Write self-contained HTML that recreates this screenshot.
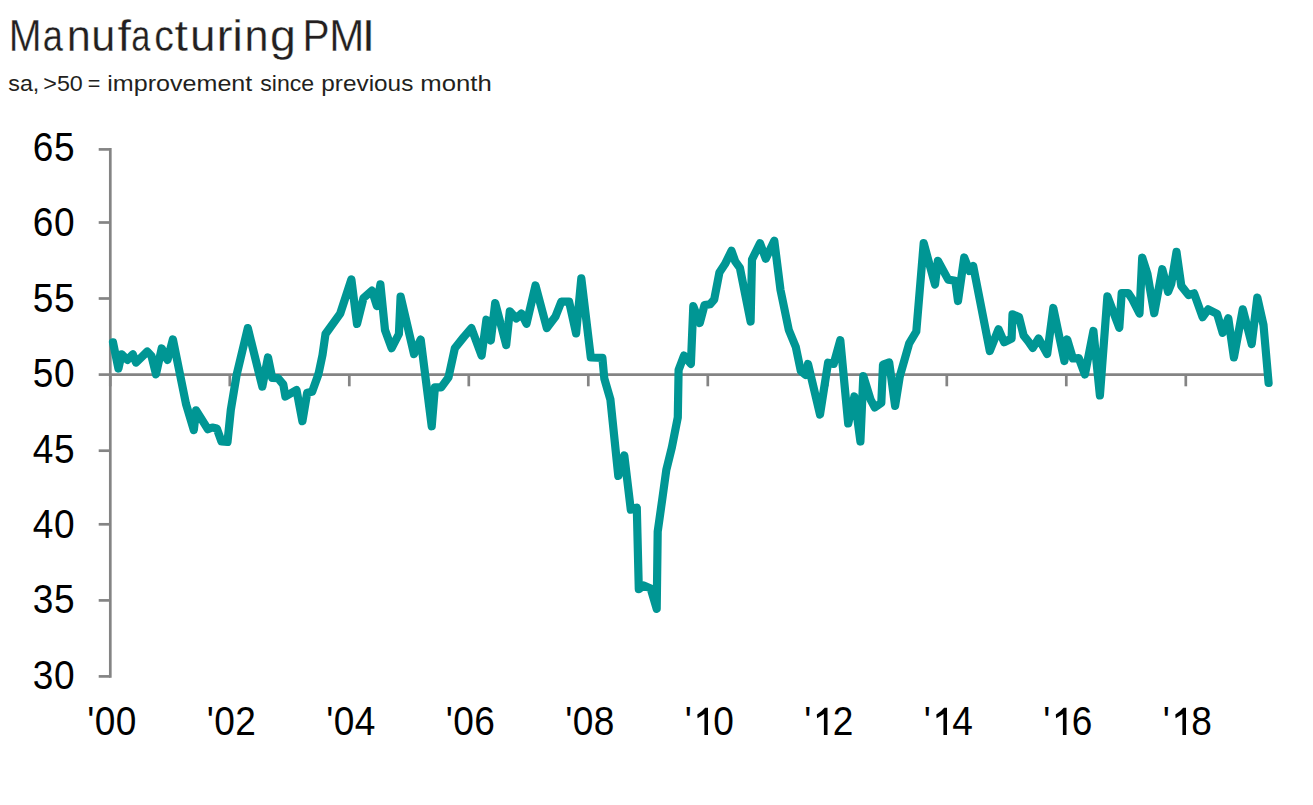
<!DOCTYPE html>
<html><head><meta charset="utf-8"><style>
html,body{margin:0;padding:0;background:#fff;}
body{width:1313px;height:805px;overflow:hidden;position:relative;}
svg{position:absolute;left:0;top:0;}
.ax{font-family:"Liberation Sans",sans-serif;font-size:40.3px;fill:#000;letter-spacing:0.5px;}
.t{font-family:"Liberation Sans",sans-serif;fill:#231f20;}
.tt{stroke:#fff;stroke-width:0.3px;}
</style></head><body>
<svg width="1313" height="805" viewBox="0 0 1313 805">
<text x="8.64" y="51" class="t tt" font-size="44" textLength="32.80" lengthAdjust="spacingAndGlyphs">M</text>
<text x="42.67" y="51" class="t tt" font-size="44" textLength="20.16" lengthAdjust="spacingAndGlyphs">a</text>
<text x="66.83" y="51" class="t tt" font-size="44" textLength="24.08" lengthAdjust="spacingAndGlyphs">n</text>
<text x="91.35" y="51" class="t tt" font-size="44" textLength="24.06" lengthAdjust="spacingAndGlyphs">u</text>
<text x="117.61" y="51" class="t tt" font-size="44" textLength="13.46" lengthAdjust="spacingAndGlyphs">f</text>
<text x="131.27" y="51" class="t tt" font-size="44" textLength="19.10" lengthAdjust="spacingAndGlyphs">a</text>
<text x="154.20" y="51" class="t tt" font-size="44" textLength="19.65" lengthAdjust="spacingAndGlyphs">c</text>
<text x="174.56" y="51" class="t tt" font-size="44" textLength="13.46" lengthAdjust="spacingAndGlyphs">t</text>
<text x="189.91" y="51" class="t tt" font-size="44" textLength="25.54" lengthAdjust="spacingAndGlyphs">u</text>
<text x="216.51" y="51" class="t tt" font-size="44" textLength="16.12" lengthAdjust="spacingAndGlyphs">r</text>
<text x="232.27" y="51" class="t tt" font-size="44" textLength="10.74" lengthAdjust="spacingAndGlyphs">i</text>
<text x="244.51" y="51" class="t tt" font-size="44" textLength="24.03" lengthAdjust="spacingAndGlyphs">n</text>
<text x="269.92" y="51" class="t tt" font-size="44" textLength="25.89" lengthAdjust="spacingAndGlyphs">g</text>
<text x="302.59" y="51" class="t tt" font-size="44" textLength="27.09" lengthAdjust="spacingAndGlyphs">P</text>
<text x="329.24" y="51" class="t tt" font-size="44" textLength="35.05" lengthAdjust="spacingAndGlyphs">M</text>
<text x="361.86" y="51" class="t tt" font-size="44" textLength="13.46" lengthAdjust="spacingAndGlyphs">I</text>
<text x="8.3" y="91" class="t" font-size="21.5" textLength="31.0" lengthAdjust="spacingAndGlyphs">sa,</text>
<text x="43.3" y="91" class="t" font-size="21.5" textLength="39.5" lengthAdjust="spacingAndGlyphs">&gt;50</text>
<text x="87.8" y="91" class="t" font-size="21.5" textLength="12.6" lengthAdjust="spacingAndGlyphs">=</text>
<text x="107.3" y="91" class="t" font-size="21.5" textLength="145.0" lengthAdjust="spacingAndGlyphs">improvement</text>
<text x="260.2" y="91" class="t" font-size="21.5" textLength="54.0" lengthAdjust="spacingAndGlyphs">since</text>
<text x="321.3" y="91" class="t" font-size="21.5" textLength="92.0" lengthAdjust="spacingAndGlyphs">previous</text>
<text x="420.3" y="91" class="t" font-size="21.5" textLength="71.5" lengthAdjust="spacingAndGlyphs">month</text>
<line x1="110.3" y1="148.05" x2="110.3" y2="677.75" stroke="#848484" stroke-width="2.7"/>
<line x1="98.7" y1="149.4" x2="110.3" y2="149.4" stroke="#848484" stroke-width="2.7"/>
<line x1="98.7" y1="222.5" x2="110.3" y2="222.5" stroke="#848484" stroke-width="2.7"/>
<line x1="98.7" y1="298.5" x2="110.3" y2="298.5" stroke="#848484" stroke-width="2.7"/>
<line x1="98.7" y1="374.6" x2="110.3" y2="374.6" stroke="#848484" stroke-width="2.7"/>
<line x1="98.7" y1="450.7" x2="110.3" y2="450.7" stroke="#848484" stroke-width="2.7"/>
<line x1="98.7" y1="524.3" x2="110.3" y2="524.3" stroke="#848484" stroke-width="2.7"/>
<line x1="98.7" y1="600.4" x2="110.3" y2="600.4" stroke="#848484" stroke-width="2.7"/>
<line x1="98.7" y1="676.4" x2="110.3" y2="676.4" stroke="#848484" stroke-width="2.7"/>
<line x1="110.3" y1="374.6" x2="1264" y2="374.6" stroke="#848484" stroke-width="2.7"/>
<line x1="110.3" y1="374.6" x2="110.3" y2="386.3" stroke="#848484" stroke-width="2.7"/>
<line x1="229.8" y1="374.6" x2="229.8" y2="386.3" stroke="#848484" stroke-width="2.7"/>
<line x1="349.3" y1="374.6" x2="349.3" y2="386.3" stroke="#848484" stroke-width="2.7"/>
<line x1="468.8" y1="374.6" x2="468.8" y2="386.3" stroke="#848484" stroke-width="2.7"/>
<line x1="588.3" y1="374.6" x2="588.3" y2="386.3" stroke="#848484" stroke-width="2.7"/>
<line x1="707.8" y1="374.6" x2="707.8" y2="386.3" stroke="#848484" stroke-width="2.7"/>
<line x1="827.3" y1="374.6" x2="827.3" y2="386.3" stroke="#848484" stroke-width="2.7"/>
<line x1="946.8" y1="374.6" x2="946.8" y2="386.3" stroke="#848484" stroke-width="2.7"/>
<line x1="1066.3" y1="374.6" x2="1066.3" y2="386.3" stroke="#848484" stroke-width="2.7"/>
<line x1="1185.8" y1="374.6" x2="1185.8" y2="386.3" stroke="#848484" stroke-width="2.7"/>
<path d="M113.0,342.3 L118.4,368.5 L121.6,354.3 L127.4,359.9 L132.8,354.3 L136.0,362.6 L147.3,351.5 L151.5,356.0 L156.0,374.2 L161.7,348.4 L167.5,359.9 L172.9,339.4 L186.0,404.0 L193.8,430.0 L196.1,410.4 L207.9,429.2 L212.3,427.5 L216.8,428.5 L221.5,441.5 L227.5,442.0 L230.8,410.0 L236.6,375.0 L247.8,328.1 L262.3,386.6 L268.0,357.4 L272.2,377.8 L278.0,378.2 L283.3,384.5 L285.4,396.5 L296.5,390.0 L302.4,421.2 L307.2,392.7 L312.1,391.8 L318.5,374.0 L322.5,355.0 L325.5,334.0 L340.2,313.6 L351.4,279.4 L357.0,323.9 L363.5,298.0 L372.0,290.6 L376.9,306.0 L380.4,284.4 L385.0,330.0 L391.6,348.2 L398.9,334.0 L400.6,296.5 L414.0,354.0 L420.7,339.6 L431.7,426.3 L434.9,387.3 L441.2,387.3 L448.5,377.3 L454.8,348.3 L463.7,337.1 L471.4,328.1 L481.6,355.6 L486.4,319.7 L490.8,340.5 L495.2,303.0 L506.2,345.0 L509.8,311.3 L516.3,318.5 L521.5,313.5 L526.5,323.7 L535.5,285.5 L546.8,328.0 L555.5,316.5 L561.3,301.7 L569.1,301.7 L576.1,333.4 L581.3,278.3 L590.8,357.5 L602.4,357.8 L604.3,378.5 L610.4,399.5 L618.3,476.0 L624.3,455.5 L630.8,509.7 L636.8,507.7 L638.8,589.2 L643.7,585.5 L650.7,588.5 L656.7,608.8 L657.7,531.6 L662.3,499.0 L666.3,470.0 L671.9,447.2 L677.8,417.4 L678.6,370.0 L684.0,355.6 L690.9,363.8 L693.3,306.1 L699.8,323.0 L704.5,305.1 L710.1,304.2 L714.2,299.5 L719.4,272.5 L725.0,264.1 L731.5,250.8 L735.2,261.3 L739.9,267.9 L750.6,321.5 L752.0,259.5 L760.0,243.2 L765.8,258.7 L774.3,240.8 L780.5,290.0 L788.8,330.0 L795.8,347.0 L800.8,371.0 L805.8,375.0 L808.0,363.9 L820.0,414.5 L828.1,362.7 L833.7,363.9 L840.3,340.2 L848.2,423.5 L854.4,396.5 L860.4,441.5 L863.3,376.0 L870.6,399.6 L874.8,407.5 L881.3,403.0 L883.0,364.6 L889.2,362.5 L895.1,405.9 L899.8,376.4 L909.2,343.3 L916.3,331.5 L923.7,243.2 L935.0,284.5 L937.9,260.8 L948.2,279.6 L955.3,280.8 L958.0,301.0 L964.2,257.5 L969.5,271.0 L973.2,266.0 L989.8,351.0 L998.5,329.2 L1004.1,342.2 L1011.6,338.5 L1012.5,314.3 L1019.0,317.1 L1023.7,335.7 L1028.3,341.3 L1032.8,347.8 L1038.6,338.5 L1047.2,354.0 L1053.3,308.0 L1064.4,361.0 L1067.2,339.5 L1072.9,358.5 L1078.8,358.1 L1084.9,374.5 L1093.4,331.0 L1099.9,395.5 L1107.4,296.3 L1119.3,327.8 L1121.7,293.0 L1128.2,293.0 L1132.5,299.6 L1139.5,313.5 L1142.2,257.6 L1147.4,273.8 L1154.2,313.2 L1162.3,269.2 L1168.1,291.7 L1171.3,283.7 L1176.5,251.9 L1181.3,285.9 L1188.5,295.0 L1194.1,293.3 L1202.6,317.2 L1208.2,309.3 L1217.1,313.8 L1222.7,332.8 L1228.3,318.3 L1233.9,357.4 L1242.8,309.3 L1251.7,344.0 L1257.3,297.5 L1263.5,325.0 L1268.6,383.0" fill="none" stroke="#009694" stroke-width="8.2" stroke-linejoin="round" stroke-linecap="round"/>
<text transform="translate(75.0,160.95) scale(0.92,1)" text-anchor="end" class="ax">65</text>
<text transform="translate(75.0,236.35) scale(0.92,1)" text-anchor="end" class="ax">60</text>
<text transform="translate(75.0,311.75) scale(0.92,1)" text-anchor="end" class="ax">55</text>
<text transform="translate(75.0,387.15) scale(0.92,1)" text-anchor="end" class="ax">50</text>
<text transform="translate(75.0,462.55) scale(0.92,1)" text-anchor="end" class="ax">45</text>
<text transform="translate(75.0,537.95) scale(0.92,1)" text-anchor="end" class="ax">40</text>
<text transform="translate(75.0,613.35) scale(0.92,1)" text-anchor="end" class="ax">35</text>
<text transform="translate(75.0,688.75) scale(0.92,1)" text-anchor="end" class="ax">30</text>
<text transform="translate(112.0,735.0) scale(0.92,1)" text-anchor="middle" class="ax">'00</text>
<text transform="translate(231.5,735.0) scale(0.92,1)" text-anchor="middle" class="ax">'02</text>
<text transform="translate(351.0,735.0) scale(0.92,1)" text-anchor="middle" class="ax">'04</text>
<text transform="translate(470.5,735.0) scale(0.92,1)" text-anchor="middle" class="ax">'06</text>
<text transform="translate(590.0,735.0) scale(0.92,1)" text-anchor="middle" class="ax">'08</text>
<path d="M708.0,707.8 L708.0,735.0 L704.4,735.0 L704.4,714.1 L697.6,718.2 L697.3,714.6 Q702.2,711.6 705.2,707.8 Z" fill="#000"/>
<text transform="translate(709.5,735.0) scale(0.92,1)" text-anchor="middle" class="ax">' 0</text>
<path d="M827.5,707.8 L827.5,735.0 L823.9,735.0 L823.9,714.1 L817.1,718.2 L816.8,714.6 Q821.7,711.6 824.7,707.8 Z" fill="#000"/>
<text transform="translate(829.0,735.0) scale(0.92,1)" text-anchor="middle" class="ax">' 2</text>
<path d="M947.0,707.8 L947.0,735.0 L943.4,735.0 L943.4,714.1 L936.6,718.2 L936.3,714.6 Q941.2,711.6 944.2,707.8 Z" fill="#000"/>
<text transform="translate(948.5,735.0) scale(0.92,1)" text-anchor="middle" class="ax">' 4</text>
<path d="M1066.5,707.8 L1066.5,735.0 L1062.9,735.0 L1062.9,714.1 L1056.1,718.2 L1055.8,714.6 Q1060.7,711.6 1063.7,707.8 Z" fill="#000"/>
<text transform="translate(1068.0,735.0) scale(0.92,1)" text-anchor="middle" class="ax">' 6</text>
<path d="M1186.0,707.8 L1186.0,735.0 L1182.4,735.0 L1182.4,714.1 L1175.6,718.2 L1175.3,714.6 Q1180.2,711.6 1183.2,707.8 Z" fill="#000"/>
<text transform="translate(1187.5,735.0) scale(0.92,1)" text-anchor="middle" class="ax">' 8</text>
</svg>
</body></html>
